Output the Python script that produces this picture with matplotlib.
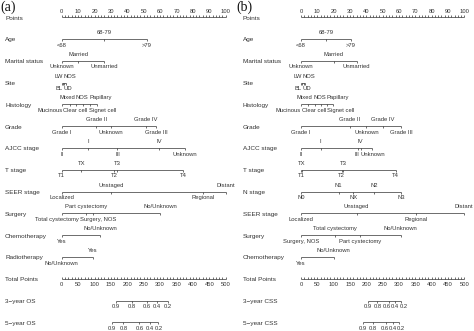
import numpy as np
import matplotlib.pyplot as plt
from matplotlib.transforms import blended_transform_factory

plt.rcParams['font.family'] = ['Liberation Sans', 'DejaVu Sans']

# ---------------- panel (a): overall survival ----------------
age_lv_a = ["<68", "68-79", ">79"]
age_pt_a = [0, 26, 52]
mar_lv_a = ["Unknown", "Married", "Unmarried"]
mar_pt_a = [0, 10, 26]
site_lv_a = ["BL", "LW", "UD", "NOS"]
site_pt_a = [0, 0.8, 1.6, 2.4]
hist_lv_a = ["Mucinous", "Mixed", "Clear cell", "NOS", "Signet cell", "Papillary"]
hist_pt_a = [0, 5, 9, 13, 17, 21.5]
grade_lv_a = ["Grade I", "Grade II", "Unknown", "Grade IV", "Grade III"]
grade_pt_a = [0, 21, 30, 51.5, 57.5]
ajcc_lv_a = ["II", "I", "III", "IV", "Unknown"]
ajcc_pt_a = [0, 16, 34, 59.5, 75]
t_lv_a = ["T1", "TX", "T2", "T3", "T4"]
t_pt_a = [0, 12, 32, 34, 74]
seer_lv_a = ["Localized", "Unstaged", "Regional", "Distant"]
seer_pt_a = [0, 30, 86, 100]
surg_lv_a = ["Total cystectomy", "Part cystectomy", "Surgery, NOS", "No/Unknown"]
surg_pt_a = [0, 15, 19, 60]
chemo_lv_a = ["Yes", "No/Unknown"]
chemo_pt_a = [0, 23.5]
radio_lv_a = ["No/Unknown", "Yes"]
radio_pt_a = [0, 19]
os3_lab = ["0.9", "0.8", "0.6", "0.4", "0.2"]
os3_tot = [165, 213, 259, 291, 325]
os5_lab = ["0.9", "0.8", "0.6", "0.4", "0.2"]
os5_tot = [152, 188, 237, 269, 295]

# ---------------- panel (b): cancer-specific survival ----------------
age_lv_b = ["<68", "68-79", ">79"]
age_pt_b = [0, 15.3, 30.6]
mar_lv_b = ["Unknown", "Married", "Unmarried"]
mar_pt_b = [0, 20, 34]
site_lv_b = ["BL", "LW", "UD", "NOS"]
site_pt_b = [0, 0.8, 1.6, 2.4]
hist_lv_b = ["Mucinous", "Mixed", "Clear cell", "NOS", "Signet cell", "Papillary"]
hist_pt_b = [0, 4.5, 8.5, 12, 16, 19.5]
grade_lv_b = ["Grade I", "Grade II", "Unknown", "Grade IV", "Grade III"]
grade_pt_b = [0, 30, 40, 50, 61.5]
ajcc_lv_b = ["II", "I", "III", "IV", "Unknown"]
ajcc_pt_b = [0, 12, 35, 36.5, 43.5]
t_lv_b = ["T1", "TX", "T2", "T3", "T4"]
t_pt_b = [0, 0.5, 25, 26, 58]
n_lv_b = ["N0", "N1", "NX", "N2", "N3"]
n_pt_b = [0, 23, 32, 45, 61.5]
seer_lv_b = ["Localized", "Unstaged", "Regional", "Distant"]
seer_pt_b = [0, 34, 70.5, 100]
surg_lv_b = ["Surgery, NOS", "Total cystectomy", "Part cystectomy", "No/Unknown"]
surg_pt_b = [0, 20.8, 36.3, 61]
chemo_lv_b = ["Yes", "No/Unknown"]
chemo_pt_b = [0, 20]
css3_lab = ["0.9", "0.8", "0.6", "0.4", "0.2"]
css3_tot = [206, 234, 270, 289, 305]
css5_lab = ["0.9", "0.8", "0.6", "0.4", "0.2"]
css5_tot = [189, 221, 260, 282, 301]

rows_a = [("Points", "points", None),
          ("Age", "var", (age_lv_a, age_pt_a)),
          ("Marital status", "var", (mar_lv_a, mar_pt_a)),
          ("Site", "var", (site_lv_a, site_pt_a)),
          ("Histology", "var", (hist_lv_a, hist_pt_a)),
          ("Grade", "var", (grade_lv_a, grade_pt_a)),
          ("AJCC stage", "var", (ajcc_lv_a, ajcc_pt_a)),
          ("T stage", "var", (t_lv_a, t_pt_a)),
          ("SEER stage", "var", (seer_lv_a, seer_pt_a)),
          ("Surgery", "var", (surg_lv_a, surg_pt_a)),
          ("Chemotherapy", "var", (chemo_lv_a, chemo_pt_a)),
          ("Radiotherapy", "var", (radio_lv_a, radio_pt_a)),
          ("Total Points", "total", None),
          ("3\u2212year OS", "surv", (os3_lab, os3_tot)),
          ("5\u2212year OS", "surv", (os5_lab, os5_tot))]

rows_b = [("Points", "points", None),
          ("Age", "var", (age_lv_b, age_pt_b)),
          ("Marital status", "var", (mar_lv_b, mar_pt_b)),
          ("Site", "var", (site_lv_b, site_pt_b)),
          ("Histology", "var", (hist_lv_b, hist_pt_b)),
          ("Grade", "var", (grade_lv_b, grade_pt_b)),
          ("AJCC stage", "var", (ajcc_lv_b, ajcc_pt_b)),
          ("T stage", "var", (t_lv_b, t_pt_b)),
          ("N stage", "var", (n_lv_b, n_pt_b)),
          ("SEER stage", "var", (seer_lv_b, seer_pt_b)),
          ("Surgery", "var", (surg_lv_b, surg_pt_b)),
          ("Chemotherapy", "var", (chemo_lv_b, chemo_pt_b)),
          ("Total Points", "total", None),
          ("3\u2212year CSS", "surv", (css3_lab, css3_tot)),
          ("5\u2212year CSS", "surv", (css5_lab, css5_tot))]

W, H = 474, 331
fig = plt.figure(figsize=(W / 100, H / 100), dpi=100)
renderer = fig.canvas.get_renderer()

LC = '#333333'
TC = '#333333'
FS = 4.2
LW = 0.5


def spread(texts, pxu, gap=0.8):
    # push neighbouring labels apart so they do not overlap
    if len(texts) < 2:
        return
    xs = [t.get_position()[0] for t in texts]
    ws = [t.get_window_extent(renderer).width / pxu for t in texts]
    g = gap / pxu
    for _ in range(200):
        moved = False
        for i in range(len(xs) - 1):
            need = (ws[i] + ws[i + 1]) / 2 + g - (xs[i + 1] - xs[i])
            if need > 1e-3:
                xs[i] -= need / 2
                xs[i + 1] += need / 2
                moved = True
        if not moved:
            break
    for t, x in zip(texts, xs):
        t.set_x(x)


def draw_panel(left_px, width_px, name_px, tag, tag_px, rows):
    ax = fig.add_axes([left_px / W, (H - 322.3) / H, width_px / W, 305 / H])
    ax.set_xlim(0, 100)
    ax.set_ylim(14, 0)
    ax.axis('off')
    pxu = width_px / 100.0
    tk = 2.0 / 21.8
    tr = blended_transform_factory(fig.transFigure, ax.transData)
    kw = dict(color=LC, lw=LW, clip_on=False, solid_capstyle='butt')
    for r, (name, kind, data) in enumerate(rows):
        ax.text(name_px / W, r + 0.04, name, transform=tr, fontsize=4.6,
                color=TC, ha='left', va='center')
        if kind in ("points", "total"):
            top = 100 if kind == "points" else 500
            step_minor = 2 if kind == "points" else 10
            step_major = 10 if kind == "points" else 50
            scale = 100.0 / top
            ax.plot([0, 100], [r, r], **kw)
            for v in np.arange(0, top + 0.1, step_minor):
                ax.plot([v * scale] * 2, [r, r - tk], **kw)
            for v in np.arange(0, top + 0.1, step_major):
                if kind == "points":
                    ax.text(v * scale, r - 0.25, f"{int(v)}", fontsize=FS,
                            color=TC, ha='center', va='center')
                else:
                    ax.text(v * scale, r + 0.26, f"{int(v)}", fontsize=FS,
                            color=TC, ha='center', va='center')
        elif kind == "var":
            lv, pt = data
            order = np.argsort(pt, kind='stable')
            ax.plot([min(pt), max(pt)], [r, r], **kw)
            below, above = [], []
            for k, i in enumerate(order):
                ax.plot([pt[i]] * 2, [r, r + tk], **kw)
                if k % 2 == 0:
                    below.append(ax.text(pt[i], r + 0.28, lv[i], fontsize=FS,
                                         color=TC, ha='center', va='center'))
                else:
                    above.append(ax.text(pt[i], r - 0.30, lv[i], fontsize=FS,
                                         color=TC, ha='center', va='center'))
            spread(below, pxu)
            spread(above, pxu)
        elif kind == "surv":
            lab, tot = data
            xs = [t / 5.0 for t in tot]
            ax.plot([min(xs), max(xs)], [r, r], **kw)
            labs = []
            for x, s in zip(xs, lab):
                ax.plot([x, x], [r, r + tk], **kw)
                labs.append(ax.text(x, r + 0.28, s, fontsize=FS, color=TC,
                                    ha='center', va='center'))
            spread(labs, pxu, gap=0.3)
    fig.text(tag_px / W, 1 - 7.5 / H, tag, fontsize=10, family='Liberation Serif',
             color='#111111', ha='left', va='center')
    return ax


draw_panel(61.7, 164.0, 5, "(a)", 0, rows_a)
draw_panel(301.0, 163.3, 243, "(b)", 236, rows_b)

fig.savefig("out.png", dpi=100, facecolor='white')
